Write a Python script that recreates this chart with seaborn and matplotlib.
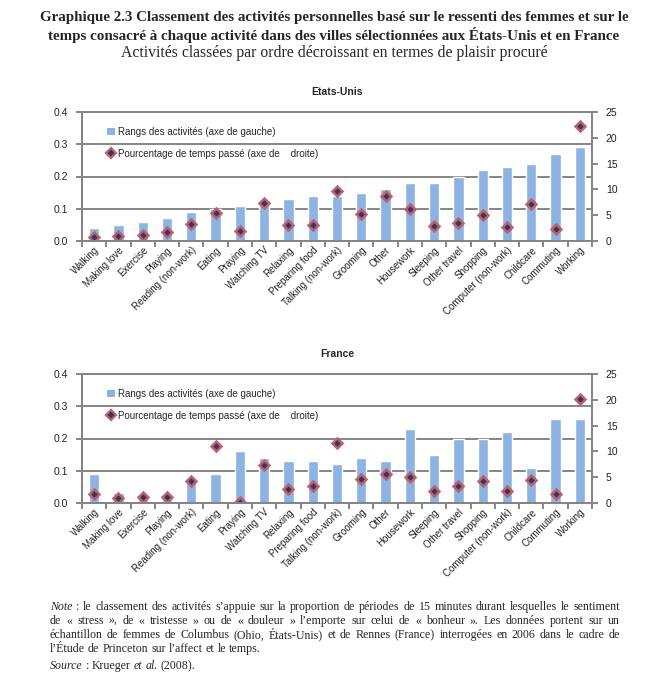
import numpy as np
import pandas as pd
import matplotlib
matplotlib.use("Agg")
import matplotlib.pyplot as plt
import seaborn as sns
from matplotlib.patches import Patch
from matplotlib.lines import Line2D

activities = [
    "Walking", "Making love", "Exercise", "Playing", "Reading (non-work)",
    "Eating", "Praying", "Watching TV", "Relaxing", "Preparing food",
    "Talking (non-work)", "Grooming", "Other", "Housework", "Sleeping",
    "Other travel", "Shopping", "Computer (non-work)", "Childcare",
    "Commuting", "Working",
]

# rang des activites (axe de gauche) / pourcentage de temps (axe de droite)
us_rank = [0.04, 0.05, 0.06, 0.07, 0.09, 0.10, 0.11, 0.12, 0.13, 0.14, 0.14,
           0.15, 0.16, 0.18, 0.18, 0.20, 0.22, 0.23, 0.24, 0.27, 0.29]
us_time = [0.8, 1.0, 1.2, 1.7, 3.2, 5.5, 1.9, 7.3, 3.1, 3.1, 9.6,
           5.3, 8.8, 6.2, 3.0, 3.4, 5.1, 2.8, 7.1, 2.4, 22.3]
fr_rank = [0.09, 0.03, 0.02, 0.02, 0.07, 0.09, 0.16, 0.14, 0.13, 0.13, 0.12,
           0.14, 0.13, 0.23, 0.15, 0.20, 0.20, 0.22, 0.11, 0.26, 0.26]
fr_time = [1.7, 1.0, 1.2, 1.2, 4.3, 11.1, 0.2, 7.3, 2.8, 3.3, 11.6,
           4.7, 5.6, 5.1, 2.4, 3.3, 4.3, 2.3, 4.5, 1.7, 20.1]

left_ticks = [0.0, 0.1, 0.2, 0.3, 0.4]
right_ticks = [0, 5, 10, 15, 20, 25]

BAR = "#8db3e2"
GRID = "#858585"
SANS = "Liberation Sans"
SERIF = "Liberation Serif"

sns.set_style("white")
plt.rcParams["font.family"] = [SANS, "DejaVu Sans"]

fig = plt.figure(figsize=(6.68, 6.82), dpi=100)
W, H = 668, 682


def box(left, top, right, bottom):
    return [left / W, 1 - bottom / H, (right - left) / W, (bottom - top) / H]


def draw_panel(rect, rank, time, title):
    df = pd.DataFrame({"activity": activities, "rank": rank, "time": time})
    ax = fig.add_axes(rect)
    sns.barplot(data=df, x="activity", y="rank", color=BAR, saturation=1,
                width=0.42, ax=ax)
    ax.set_ylim(0, 0.4)
    ax.set_yticks(left_ticks)
    ax.set_yticklabels([f"{v:.1f}" for v in left_ticks])
    ax.set_axisbelow(True)
    ax.yaxis.grid(True, color=GRID, lw=1.4)
    ax.set_xlabel("")
    ax.set_ylabel("")
    ax.set_xticks(np.arange(-0.5, len(activities)), minor=True)
    ax.tick_params(axis="x", which="major", length=0, pad=3, labelsize=7,
                   labelcolor="#222222")
    ax.tick_params(axis="x", which="minor", length=4, width=1.4, color=GRID,
                   direction="out", bottom=True)
    ax.tick_params(axis="y", length=4, width=1.4, color=GRID, direction="out",
                   left=True, labelsize=7.5, labelcolor="#222222", pad=6)
    for lab in ax.get_xticklabels():
        lab.set_rotation(45)
        lab.set_ha("right")
        lab.set_rotation_mode("anchor")
    for s in ax.spines.values():
        s.set_color(GRID)
        s.set_linewidth(1.4)

    ax2 = ax.twinx()
    sns.pointplot(data=df, x="activity", y="time", errorbar=None,
                  linestyle="none", marker="D", markersize=5.5,
                  markerfacecolor="#2b3a67", markeredgecolor="#c0606a",
                  markeredgewidth=1.8, color="#c0606a", ax=ax2)
    ax2.set_ylim(0, 25)
    ax2.set_yticks(right_ticks)
    ax2.set_ylabel("")
    ax2.set_xlabel("")
    ax2.tick_params(axis="y", length=4, width=1.4, color=GRID, direction="out",
                    right=True, labelsize=7.5, labelcolor="#222222", pad=6)
    for s in ax2.spines.values():
        s.set_color(GRID)
        s.set_linewidth(1.4)

    handles = [
        Patch(facecolor=BAR, edgecolor="none"),
        Line2D([], [], linestyle="none", marker="D", markersize=5,
               markerfacecolor="#2b3a67", markeredgecolor="#c0606a",
               markeredgewidth=1.6),
    ]
    labels = ["Rangs des activités (axe de gauche)",
              "Pourcentage de temps passé (axe de    droite)"]
    ax2.legend(handles, labels, loc="upper left", bbox_to_anchor=(0.042, 0.915),
               frameon=False, fontsize=7, labelspacing=1.2, handlelength=0.8,
               handletextpad=0.3, borderaxespad=0)
    ax.set_title(title, fontsize=7.5, fontweight="bold", pad=12)
    return ax


draw_panel(box(82, 112, 592, 241), us_rank, us_time, "Etats-Unis")
draw_panel(box(82, 374, 592, 503), fr_rank, fr_time, "France")

# titre
fig.text(0.5, 1 - 18 / H, "Graphique 2.3 Classement des activités personnelles "
         "basé sur le ressenti des femmes et sur le", ha="center", va="center",
         family=SERIF, fontsize=10.8, fontweight="bold")
fig.text(0.5, 1 - 35 / H, "temps consacré à chaque activité dans des villes "
         "sélectionnées aux États-Unis et en France", ha="center", va="center",
         family=SERIF, fontsize=10.8, fontweight="bold")
fig.text(0.5, 1 - 53 / H, "Activités classées par ordre décroissant en termes "
         "de plaisir procuré", ha="center", va="center", family=SERIF,
         fontsize=11.3)

# note en bas, justifiee a la main
renderer = fig.canvas.get_renderer()
NOTE_SIZE = 8.6


def put_line(pieces, y, x0=50, x1=620, justify=True):
    texts = []
    for word, style in pieces:
        t = fig.text(0, 1 - y / H, word, family=SERIF, fontsize=NOTE_SIZE,
                     style=style, va="baseline")
        texts.append(t)
    widths = [t.get_window_extent(renderer).width for t in texts]
    space = fig.text(0, 0, "a a", family=SERIF, fontsize=NOTE_SIZE)
    sp = space.get_window_extent(renderer).width
    space.remove()
    a = fig.text(0, 0, "aa", family=SERIF, fontsize=NOTE_SIZE)
    sp -= a.get_window_extent(renderer).width
    a.remove()
    gap = sp
    if justify and len(texts) > 1:
        gap = (x1 - x0 - sum(widths)) / (len(texts) - 1)
    x = x0
    for t, w in zip(texts, widths):
        t.set_x(x / W)
        x += w + gap


def words(s, style="normal"):
    return [(w, style) for w in s.split(" ")]


put_line([("Note", "italic"), (":", "normal")] + words(
    "le classement des activités s’appuie sur la proportion de périodes de "
    "15 minutes durant lesquelles le sentiment"), 610)
put_line(words("de « stress », de « tristesse » ou de « douleur » l’emporte "
               "sur celui de « bonheur ». Les données portent sur un"), 624)
put_line(words("échantillon de femmes de Columbus (Ohio, États-Unis) et de "
               "Rennes (France) interrogées en 2006 dans le cadre de"), 638)
put_line(words("l’Étude de Princeton sur l’affect et le temps."), 652,
         justify=False)
put_line([("Source", "italic"), (":", "normal"), ("Krueger", "normal"),
          ("et", "italic"), ("al.", "italic"), ("(2008).", "normal")], 669,
         justify=False)

fig.savefig("out.png", dpi=100)
